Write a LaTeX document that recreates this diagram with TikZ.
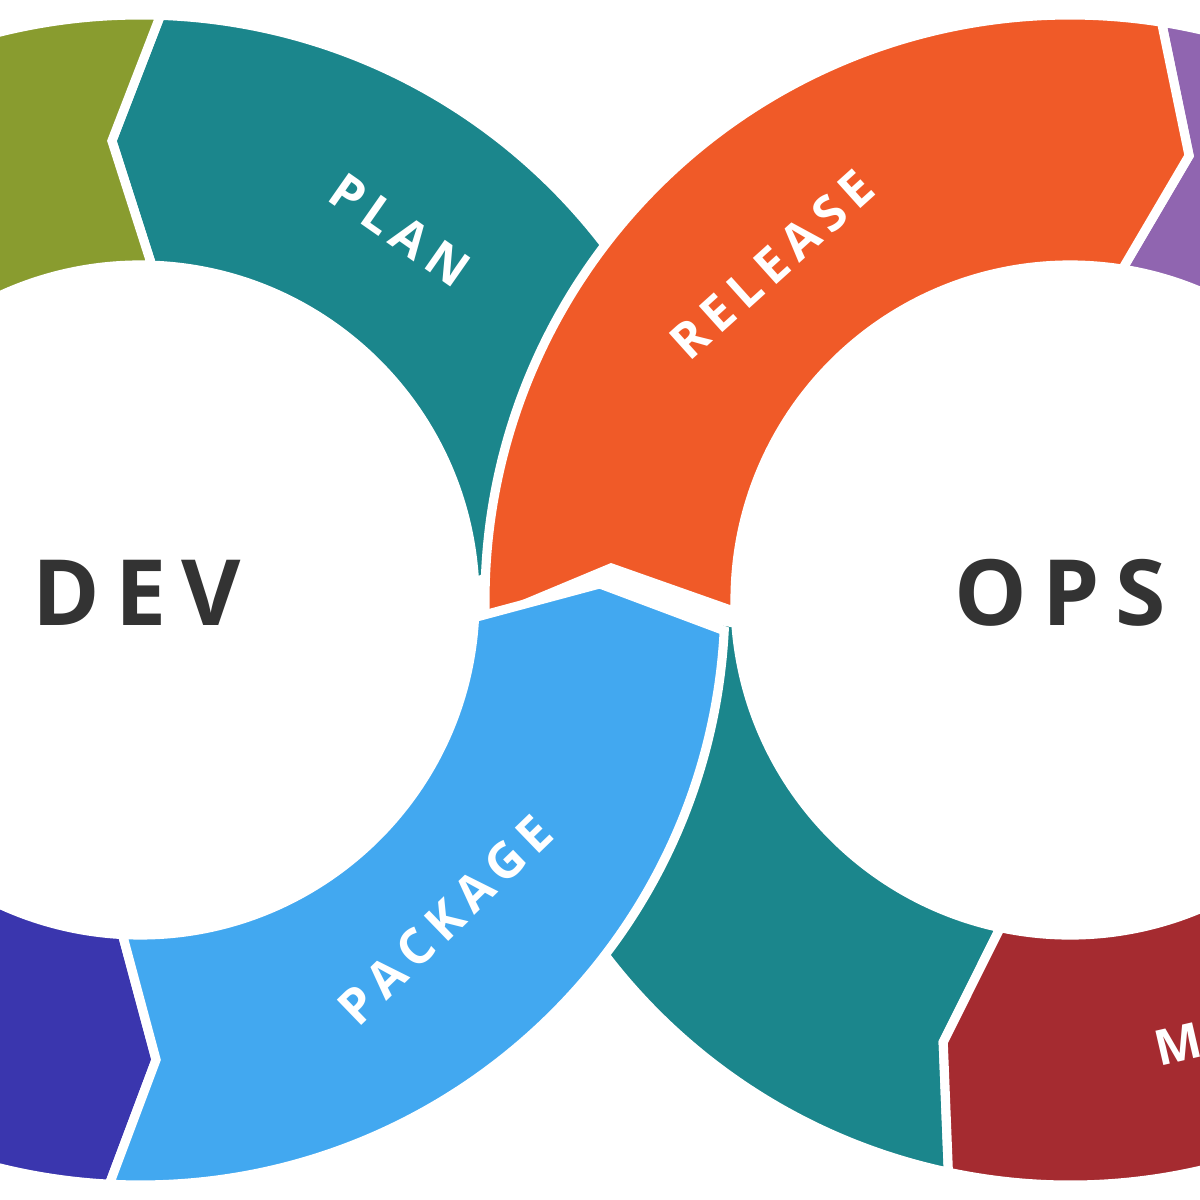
\documentclass[tikz,border=0pt]{standalone}
\usepackage{fontspec}
\setmainfont{Open Sans}
\definecolor{cteal}{HTML}{1B868C}
\definecolor{cgreen}{HTML}{899C2F}
\definecolor{corange}{HTML}{F05A28}
\definecolor{cblue}{HTML}{42A8F0}
\definecolor{cindigo}{HTML}{3A36AE}
\definecolor{cmaroon}{HTML}{A52B30}
\definecolor{cpurple}{HTML}{9065B0}
\definecolor{cdark}{HTML}{333333}
\newcommand{\myseg}[6]{%
\begin{scope}[shift={(#1,#2)}]
\fill[#6, draw=white, line width=2.6pt, line join=miter]
 (#3:585) arc[start angle=#3, end angle=#4, radius=585] -- ({#4+#5}:460) -- (#4:335)
 arc[start angle=#4, end angle=#3, radius=335] -- ({#3+#5}:460) -- cycle;
\end{scope}}
\tikzset{lbl/.style={text=white, font=\bfseries\fontsize{14}{14}\selectfont, inner sep=0pt},
big/.style={text=cdark, font=\bfseries\fontsize{26}{26}\selectfont, inner sep=0pt}}
\begin{document}
\begin{tikzpicture}[x=0.01cm,y=0.01cm]
\useasboundingbox (0,0) rectangle (1200,1200);
\clip (0,0) rectangle (1200,1200);
% left C1=(140,600), right C2=(1070,600)
\myseg{140}{600}{3}{88}{5.5}{cteal}
\myseg{140}{600}{88}{200}{5.5}{cgreen}
\myseg{140}{600}{180}{267}{5}{cindigo}
\myseg{1070}{600}{184}{258}{-4}{cteal}
\myseg{1070}{600}{258}{340}{-4}{cmaroon}
\myseg{1070}{600}{-20}{81}{-6}{cpurple}
\myseg{1070}{600}{81}{182}{-6}{corange}
\myseg{140}{600}{267}{357}{5}{cblue}
\node[lbl, rotate=-35] (plan) at (400,970) {P\,L\,A\,N};
\node[lbl, rotate=42] (release) at (772,935) {R\,E\,L\,E\,A\,S\,E};
\node[lbl, rotate=44] (package) at (445,280) {P\,A\,C\,K\,A\,G\,E};
\node[lbl, rotate=13, anchor=west] (monitor) at (1155,150) {M\,O\,N\,I\,T\,O\,R};
\node[big] (dev) at (137,607) {D\,E\,V};
\node[big] (ops) at (1060,607) {O\,P\,S};
\end{tikzpicture}
\end{document}
